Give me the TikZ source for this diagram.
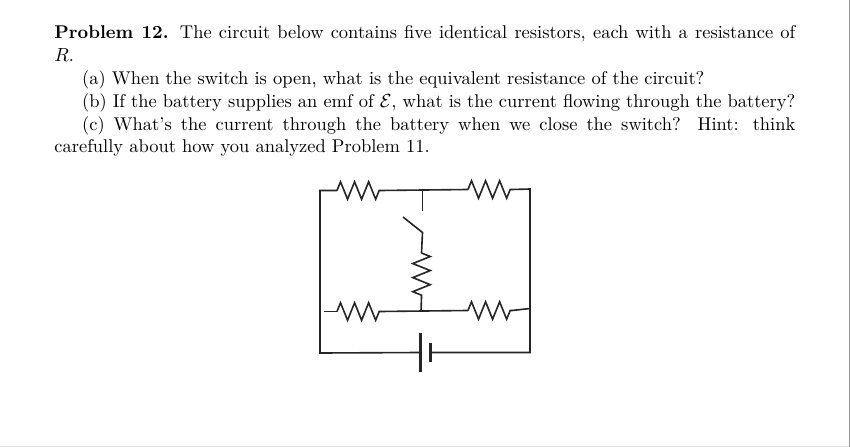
\documentclass[tikz,border=0pt]{standalone}
\usepackage{amssymb}
\usepackage{amsmath}
\usetikzlibrary{calc,positioning}
\usetikzlibrary{decorations.pathmorphing}
\definecolor{frame1}{RGB}{150,150,150}
\definecolor{frame2}{RGB}{222,222,222}
\tikzset{
  wire/.style={line width=0.85pt,color=black!85},
  resistor/.style={wire,decorate,decoration={zigzag,amplitude=4.6pt,segment length=7.4pt}},
  plate/.style={line width=1.6pt,color=black!85}
}
\begin{document}
\begin{tikzpicture}[x=0.5263pt,y=-0.5263pt]
\useasboundingbox (0,0) rectangle (850,447);
\draw[frame2] (0,446.5) -- (850,446.5);
\draw[frame1] (849.5,0) -- (849.5,447);

\node[anchor=north west,inner sep=0pt,text width=390pt,align=justify] (problem) at (54,25) {%
\fontsize{9.72pt}{12.1pt}\selectfont
\setlength{\parindent}{14.6pt}\noindent
\textbf{Problem 12.} The circuit below contains five identical resistors, each with a resistance of\linebreak $R$.\par
(a) When the switch is open, what is the equivalent resistance of the circuit?\par
(b) If the battery supplies an emf of $\mathcal{E}$, what is the current flowing through the battery?\par
(c) What's the current through the battery when we close the switch?  Hint: think carefully about how you analyzed Problem 11.};

%outer loop
\coordinate (topleft) at (320,190.5);
\coordinate (topright) at (530,189);
\coordinate (botleft) at (320,353);
\coordinate (botright) at (530,352.5);
%top branch
\coordinate (r1a) at (337,190.5);
\coordinate (r1b) at (380,190.5);
\coordinate (r2a) at (468,189.5);
\coordinate (r2b) at (512,189.5);
\coordinate (topmid) at (422.5,190);
\coordinate (stubend) at (422.5,211);
%switch and middle resistor
\coordinate (swtip) at (403,217);
\coordinate (swpivot) at (422.5,232.5);
\coordinate (r5a) at (421.5,253);
\coordinate (r5b) at (421.5,297);
\coordinate (botmid) at (421,311);
%lower branch
\coordinate (lowstart) at (323.5,311.5);
\coordinate (r3a) at (337,311.5);
\coordinate (r3b) at (380,311.5);
\coordinate (r4a) at (468,310.5);
\coordinate (r4b) at (512,310.5);
\coordinate (lowend) at (530,308.5);
%battery
\coordinate (batlong) at (420.7,352.5);
\coordinate (batshort) at (430.7,352.5);

\draw[wire] (r1a) -- (topleft) -- (botleft) -- (batlong);
\draw[wire] (batshort) -- (botright) -- (topright) -- (r2b);
\draw[resistor] (r1a) -- (r1b);
\draw[wire] (r1b) -- (r2a);
\draw[resistor] (r2a) -- (r2b);
\draw[wire] (topmid) -- (stubend);

\draw[wire] (swtip) -- (swpivot) -- (r5a);
\draw[resistor] (r5a) -- (r5b);
\draw[wire] (r5b) -- (botmid);

\draw[wire] (lowstart) -- (r3a);
\draw[resistor] (r3a) -- (r3b);
\draw[wire] (r3b) -- (r4a);
\draw[resistor] (r4a) -- (r4b);
\draw[wire] (r4b) -- (lowend);

\draw[plate] ($(batlong)+(0,-19.5)$) -- ($(batlong)+(0,19.5)$);
\draw[plate] ($(batshort)+(0,-9.5)$) -- ($(batshort)+(0,9.5)$);
\end{tikzpicture}
\end{document}
